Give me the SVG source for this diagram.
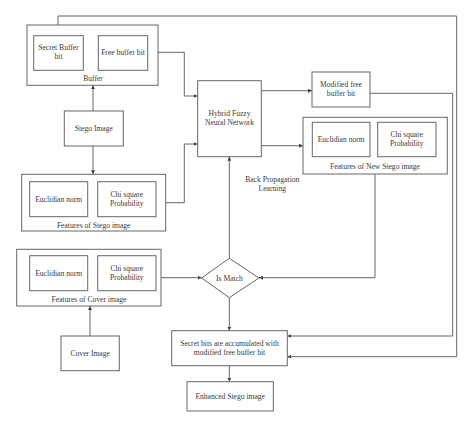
<svg xmlns="http://www.w3.org/2000/svg" width="474" height="428" viewBox="0 0 474 428">
<style>
.b{fill:#fff;stroke:#666;stroke-width:1}
.t{font-family:"Liberation Serif","Times New Roman",serif;font-size:7.6px;fill:#3a3a3a;text-anchor:middle}
.c{fill:none;stroke:#666;stroke-width:1}
</style>
<defs>
<marker id="a" viewBox="0 0 6 6" refX="6" refY="3" markerWidth="4" markerHeight="4" orient="auto" markerUnits="userSpaceOnUse">
<path d="M0,0 L6,3 L0,6 z" fill="#444"/>
</marker>
</defs>
<rect width="474" height="428" fill="#fff"/>
<g id="connectors">
<path class="c" d="M58,25 V16 H456.7 V356.7 H287.3" marker-end="url(#a)"/>
<path class="c" d="M370,93.3 H452.7 V336 H287.3" marker-end="url(#a)"/>
<path class="c" d="M147.7,52.3 H184.3 V96 H197.7" marker-end="url(#a)"/>
<path class="c" d="M165.7,202.7 H184.3 V144 H197.7" marker-end="url(#a)"/>
<path class="c" d="M93,111 V85.3" marker-end="url(#a)"/>
<path class="c" d="M93,146 V174.3" marker-end="url(#a)"/>
<path class="c" d="M261.3,90.7 H312" marker-end="url(#a)"/>
<path class="c" d="M261.3,145.7 H303" marker-end="url(#a)"/>
<path class="c" d="M229.3,258.3 V156.7" marker-end="url(#a)"/>
<path class="c" d="M375,174 V277.7 H259" marker-end="url(#a)"/>
<path class="c" d="M161,277.7 H201.7" marker-end="url(#a)"/>
<path class="c" d="M229.3,297.7 V330.7" marker-end="url(#a)"/>
<path class="c" d="M229.3,365.7 V381.7" marker-end="url(#a)"/>
<path class="c" d="M90,336 V306" marker-end="url(#a)"/>
<text class="t" x="272.3" y="182">Back Propagation</text>
<text class="t" x="272.3" y="191.3">Learning</text>
</g>
<g id="buffer">
<rect class="b" x="27" y="25" width="131" height="60.3"/>
<text class="t" x="93" y="81">Buffer</text>
</g>
<g id="secret-buffer-bit">
<rect class="b" x="33.7" y="35.7" width="49.6" height="34.6"/>
<text class="t" x="58.5" y="50">Secret Buffer</text>
<text class="t" x="58.5" y="59.3">bit</text>
</g>
<g id="free-buffer-bit">
<rect class="b" x="98.3" y="35.7" width="49.4" height="34.6"/>
<text class="t" x="123" y="55">Free buffer bit</text>
</g>
<g id="stego-image">
<rect class="b" x="64.3" y="111" width="59" height="35"/>
<text class="t" x="93.8" y="130.5">Stego Image</text>
</g>
<g id="features-stego">
<rect class="b" x="21.7" y="174.3" width="144" height="56.7"/>
<text class="t" x="93.7" y="227.5">Features of Stego image</text>
<rect class="b" x="29.7" y="181.7" width="58" height="35"/>
<text class="t" x="58.7" y="201.5">Euclidian norm</text>
<rect class="b" x="97.7" y="181.7" width="58.3" height="35"/>
<text class="t" x="126.8" y="196.5">Chi square</text>
<text class="t" x="126.8" y="205.8">Probability</text>
</g>
<g id="hfnn">
<rect class="b" x="197.7" y="80.7" width="63.6" height="76"/>
<text class="t" x="229.5" y="115.5">Hybrid Fuzzy</text>
<text class="t" x="229.5" y="124.8">Neural Network</text>
</g>
<g id="modified-free-buffer-bit">
<rect class="b" x="312" y="72" width="58" height="35"/>
<text class="t" x="341" y="86.5">Modified free</text>
<text class="t" x="341" y="96">buffer bit</text>
</g>
<g id="features-new-stego">
<rect class="b" x="303" y="117.3" width="144.3" height="56.7"/>
<text class="t" x="375" y="169">Features of New Stego image</text>
<rect class="b" x="312.3" y="122.3" width="57.7" height="34.4"/>
<text class="t" x="341.2" y="142">Euclidian norm</text>
<rect class="b" x="377.7" y="122.3" width="58.3" height="34.4"/>
<text class="t" x="406.8" y="137">Chi square</text>
<text class="t" x="406.8" y="146.3">Probability</text>
</g>
<g id="is-match">
<path class="b" d="M229.3,258.3 L259,278 L229.3,297.7 L201.7,278 Z"/>
<text class="t" x="229.5" y="280.5">Is Match</text>
</g>
<g id="features-cover">
<rect class="b" x="16.7" y="249.3" width="144.3" height="56.7"/>
<text class="t" x="89" y="302.3">Features of Cover image</text>
<rect class="b" x="29.7" y="255.7" width="58" height="35"/>
<text class="t" x="58.7" y="275.5">Euclidian norm</text>
<rect class="b" x="97.7" y="255.7" width="58.3" height="35"/>
<text class="t" x="126.8" y="270.5">Chi square</text>
<text class="t" x="126.8" y="279.8">Probability</text>
</g>
<g id="cover-image">
<rect class="b" x="61" y="336" width="58.3" height="34.7"/>
<text class="t" x="90.2" y="355.5">Cover Image</text>
</g>
<g id="secret-bits">
<rect class="b" x="171.7" y="330.7" width="115.6" height="35"/>
<text class="t" x="229.5" y="345.5">Secret bits are accumulated with</text>
<text class="t" x="229.5" y="354.8">modified free buffer bit</text>
</g>
<g id="enhanced-stego">
<rect class="b" x="187" y="381.7" width="86.3" height="29.3"/>
<text class="t" x="230.2" y="398.5">Enhanced Stego image</text>
</g>
</svg>
